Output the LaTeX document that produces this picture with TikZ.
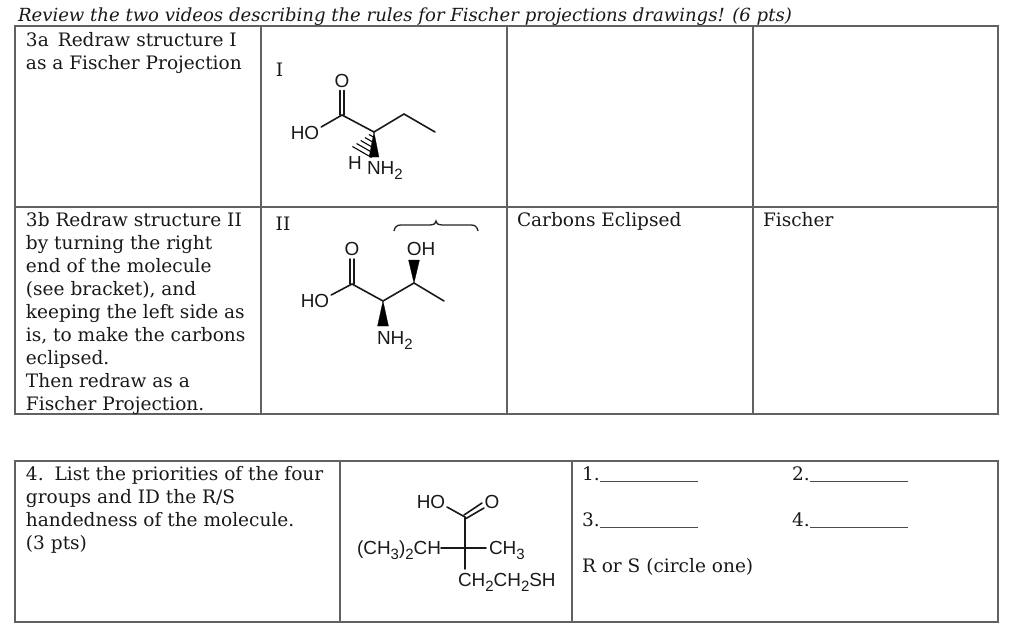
\documentclass[tikz,border=0pt]{standalone}
\usepackage{fontspec}
\usetikzlibrary{calc}
\setmainfont{DejaVu Serif}
\newfontfamily\chemfont{Liberation Sans}
\newcommand{\sbs}[1]{\raisebox{-0.28em}{\fontsize{11.2pt}{12pt}\selectfont #1}}
\tikzset{
  x=0.75pt,y=-0.75pt,
  grid/.style={draw=black!62,line width=0.9pt},
  txt/.style={anchor=base west,inner sep=0pt,outer sep=0pt,text=black!90,font=\fontsize{13.9pt}{17pt}\selectfont},
  ttl/.style={anchor=base west,inner sep=0pt,outer sep=0pt,text=black!90,font=\fontsize{13.55pt}{17pt}\selectfont\itshape},
  rom/.style={anchor=center,inner sep=0pt,text=black!90,font=\fontsize{13.9pt}{17pt}\selectfont},
  atom/.style={anchor=center,inner sep=0pt,outer sep=0pt,text=black!90,font=\chemfont\fontsize{14.2pt}{17pt}\selectfont},
  bond/.style={draw=black!90,line width=1.2pt,line cap=round},
  wedge/.style={fill=black,draw=black,line width=0.2pt,line join=round},
  hash/.style={draw=black,line width=0.8pt},
}
\begin{document}
\begin{tikzpicture}
\useasboundingbox (0,0) rectangle (1024,636);
\fill[white] (0,0) rectangle (1024,636);
% upper table
\draw[grid] (15,26) rectangle (998,414);
\draw[grid] (15,207) -- (998,207);
\draw[grid] (261,26) -- (261,414);
\draw[grid] (507,26) -- (507,414);
\draw[grid] (753,26) -- (753,414);
% lower table
\draw[grid] (15,461) rectangle (998,622);
\draw[grid] (340,461) -- (340,622);
\draw[grid] (572,461) -- (572,622);
% title
\node[ttl] (title) at (18,21.5) {Review the two videos describing the rules for Fischer projections drawings! (6 pts)};
% left text
\node[txt] (a1) at (26,46) {3a\, Redraw structure I};
\node[txt] (a2) at (26,69) {as a Fischer Projection};
\node[txt] (b1) at (26,226.5) {3b Redraw structure II};
\node[txt] (b2) at (26,249.5) {by turning the right};
\node[txt] (b3) at (26,272.5) {end of the molecule};
\node[txt] (b4) at (26,295.5) {(see bracket), and};
\node[txt] (b5) at (26,318.5) {keeping the left side as};
\node[txt] (b6) at (26,341.5) {is, to make the carbons};
\node[txt] (b7) at (26,364.5) {eclipsed.};
\node[txt] (b8) at (26,387.5) {Then redraw as a};
\node[txt] (b9) at (26,410) {Fischer Projection.};
\node[txt] (ce) at (517,226.5) {Carbons Eclipsed};
\node[txt] (fi) at (763,226.5) {Fischer};
\node[rom] (r1) at (279.5,70) {I};
\node[rom] (r2) at (283,224) {II};
% lower text
\node[txt] (c1) at (26,480) {4.\, List the priorities of the four};
\node[txt] (c2) at (26,503) {groups and ID the R/S};
\node[txt] (c3) at (26,526) {handedness of the molecule.};
\node[txt] (c4) at (26,549) {(3 pts)};
\node[txt] (p1) at (582,480) {1.};
\node[txt] (p2) at (792,480) {2.};
\node[txt] (p3) at (582,526) {3.};
\node[txt] (p4) at (792,526) {4.};
\node[txt] (rs) at (582,572) {R or S (circle one)};
\foreach \n/\xa/\yy in {1/600/481.5,2/810/481.5,3/600/527.5,4/810/527.5}
  \draw[black!70,line width=0.8pt] (\xa,\yy) -- ++(98,0);
% structure I
\node[atom] (O1) at (342,80.5) {O};
\node[atom] (HO1) at (305,133) {HO};
\node[atom] (H1) at (355,163) {H};
\node[atom,anchor=base west] (N1) at (367,174.5) {NH\sbs{2}};
\coordinate (C1) at (342,115);
\coordinate (C2) at (374,132);
\coordinate (C3) at (404,114);
\coordinate (C4) at (435,132);
\coordinate (W1) at (374,157);
\coordinate (H1e) at (362,152);
\draw[bond,shorten >=2.5pt] ([xshift=-1.5pt]C1) -- ([xshift=-1.5pt]O1.south);
\draw[bond,shorten >=2.5pt] ([xshift=1.5pt]C1) -- ([xshift=1.5pt]O1.south);
\draw[bond] (C1) -- ([xshift=1.5pt,yshift=4.5pt]HO1.east);
\draw[bond] (C1) -- (C2) -- (C3) -- (C4);
\fill[wedge] (C2) -- ([xshift=-3.7pt]W1) -- ([xshift=3.7pt]W1) -- cycle;
\foreach \t/\w in {0.2/3,0.4/5,0.6/7,0.8/9,1.0/11}
  \draw[hash] ($(C2)!\t!(H1e)+(\w*0.87,\w*0.5)$) -- ($(C2)!\t!(H1e)-(\w*0.87,\w*0.5)$);
% structure II
\node[atom] (O2) at (352,249) {O};
\node[atom] (OH2) at (421,249) {OH};
\node[atom] (HO2) at (315,301) {HO};
\node[atom,anchor=base west] (N2) at (377,344) {NH\sbs{2}};
\coordinate (D1) at (352,284);
\coordinate (D2) at (383,301);
\coordinate (D3) at (414,283);
\coordinate (D4) at (444,301);
\coordinate (W2) at (383,326);
\coordinate (W3) at (414,260);
\draw[bond,shorten >=2.5pt] ([xshift=-1.5pt]D1) -- ([xshift=-1.5pt]O2.south);
\draw[bond,shorten >=2.5pt] ([xshift=1.5pt]D1) -- ([xshift=1.5pt]O2.south);
\draw[bond] (D1) -- ([xshift=1.5pt,yshift=4.5pt]HO2.east);
\draw[bond] (D1) -- (D2) -- (D3) -- (D4);
\fill[wedge] (D2) -- ([xshift=-4.1pt]W2) -- ([xshift=4.1pt]W2) -- cycle;
\fill[wedge] (D3) -- ([xshift=-4.1pt]W3) -- ([xshift=4.1pt]W3) -- cycle;
\draw[black!85,line width=1pt] (394,231) .. controls (395,226.5) and (397,225) .. (401,225) -- (430,225) .. controls (433,225) and (435,224.5) .. (436,221) .. controls (437,224.5) and (439,225) .. (442,225) -- (471,225) .. controls (475,225) and (477,226.5) .. (478,231);
% structure III
\node[atom] (HO3) at (431,502) {HO};
\node[atom] (O3) at (492,502) {O};
\node[atom,anchor=base east] (L3) at (441,554) {(CH\sbs{3})\sbs{2}CH};
\node[atom,anchor=base west] (R3) at (489,554) {CH\sbs{3}};
\node[atom,anchor=base west] (B3) at (458,586) {CH\sbs{2}CH\sbs{2}SH};
\coordinate (E1) at (465,517);
\coordinate (E2) at (465,548);
\coordinate (HO3b) at (447,507);
\coordinate (O3a) at (482,503);
\coordinate (O3b) at (484,508);
\coordinate (E1a) at (464,515);
\coordinate (E1b) at (466,518.5);
\coordinate (E3) at (441,548);
\coordinate (E4) at (486,548);
\coordinate (E5) at (465,569);
\draw[bond] (HO3b) -- (E1);
\draw[bond] (E1a) -- (O3a);
\draw[bond] (E1b) -- (O3b);
\draw[bond] (E1) -- (E2);
\draw[bond] (E3) -- (E4);
\draw[bond] (E2) -- (E5);
\end{tikzpicture}
\end{document}
